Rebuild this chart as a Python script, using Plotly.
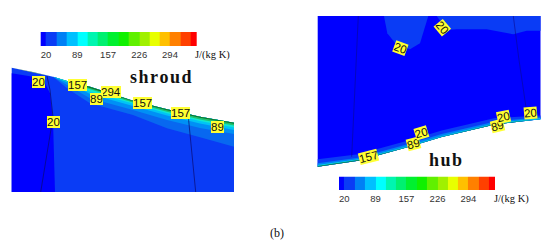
import plotly.graph_objects as go

W, H = 550, 247

# ---------- colour legend ----------
level_edges = [-3, 20, 43, 66, 89, 112, 135, 157, 180, 203, 226, 249, 271, 294, 317, 340, 363]
tick_values = [20, 89, 157, 226, 294]
tick_labels = ["20", "89", "157", "226", "294"]
level_colors = ["#0000ff", "#0a3cf5", "#0080f5", "#00c0ff", "#00ffff", "#00f5b0",
                "#00f070", "#00f030", "#10f000", "#60f000", "#a0f000", "#e8ff00",
                "#ffc000", "#ff8000", "#ff4000", "#ff0000"]
unit_label = "J/(kg K)"

# ---------- shroud panel ----------
shroud_x = [11.7, 33, 53, 67, 90, 133, 167, 200, 234]
shroud_top = [67.7, 72, 76.7, 81, 86.7, 100.7, 109.3, 116.7, 122.7]
shroud_floor = [192, 192, 192, 192, 192, 192, 192, 192, 192]
shroud_core_x = [11.7, 33, 45, 50, 53, 55, 11.7]
shroud_core_y = [73.3, 76.7, 83.3, 93.3, 120, 192, 192]
shroud_bands = [
    ("#0868f0", [67.7, 72, 76.7, 88.3, 103.3, 115, 128.3, 137.3, 146.7]),
    ("#0090f5", [67.7, 72, 76.7, 85, 98.3, 110, 120, 128, 134]),
    ("#00c4f5", [67.7, 72, 76.7, 82.3, 94, 106, 115.5, 123.5, 130]),
    ("#10e8d0", [67.7, 72, 76.7, 81.7, 91.7, 103.5, 113.3, 121, 127.5]),
    ("#20c070", [67.7, 72, 76.7, 81.3, 89.3, 102.5, 111.8, 119.5, 125.5]),
    ("#10702a", [67.7, 72, 76.7, 81, 88, 101.3, 110.3, 117.7, 123.7]),
]
shroud_lines = [
    ([47, 50, 53, 40.7], [76, 90, 117, 192]),
    ([188.3, 195.7], [116.7, 192]),
]
shroud_label_text = ["20", "157", "294", "89", "157", "157", "89", "20"]
shroud_label_x = [38.3, 77.3, 111.3, 96, 142.7, 180, 217, 53]
shroud_label_y = [82.3, 84.7, 92.3, 98.7, 103, 112.7, 126.7, 122]

# ---------- hub panel ----------
hub_x = [317.7, 358.3, 408.3, 441.7, 495, 540.5]
hub_floor = [166.7, 160.7, 147, 137, 124.5, 119.3]
hub_ceiling = [16, 16, 16, 16, 16, 16]
hub_bands = [
    ("#0a3cf5", [159.3, 154.3, 140.5, 130.5, 118, 115.5]),
    ("#0080f5", [163.3, 157.7, 144, 134, 121.5, 117.3]),
    ("#00d0e8", [165, 159.3, 146, 136, 123.2, 118.3]),
    ("#107040", [166, 160, 146.7, 136.7, 124, 119]),
]
hub_tongue_x = [384, 387.3, 396.7, 410, 420, 428.3]
hub_tongue_y = [16, 33.3, 45, 49.3, 43.3, 16]
hub_patch_x = [436.7, 446.7, 456.7, 486.7, 513.3, 526.7, 540.5, 540.5]
hub_patch_y = [16, 30, 29.3, 29.3, 34.3, 30.7, 30.7, 16]
hub_lines = [
    ([358.3, 353.3, 351.7], [16, 120, 156.7]),
    ([513.3, 519, 526.7], [16, 60, 112]),
]
hub_label_text = ["157", "89", "20", "89", "20", "20", "20", "20"]
hub_label_x = [368.3, 413, 421, 497.3, 503, 530.7, 400, 442.7]
hub_label_y = [157, 144, 133.3, 126, 116.7, 112.7, 47.7, 27.7]
hub_label_angle = [-14, -15, -17, -14, -12, -5, 20, 50]

fig = go.Figure()


def band(xs, upper, lower, color, xa, ya):
    fig.add_trace(go.Scatter(x=xs + xs[::-1], y=upper + lower[::-1], mode="lines",
                             fill="toself", fillcolor=color, line=dict(width=0, color=color),
                             xaxis=xa, yaxis=ya, hoverinfo="skip", showlegend=False))


# shroud
band(shroud_x, shroud_top, shroud_floor, "#0a3cf5", "x", "y")
fig.add_trace(go.Scatter(x=shroud_core_x, y=shroud_core_y, mode="lines", fill="toself",
                         fillcolor="#0000ff", line=dict(width=0), xaxis="x", yaxis="y",
                         hoverinfo="skip", showlegend=False))
for color, edge in shroud_bands:
    band(shroud_x, edge, shroud_top, color, "x", "y")
for lx, ly in shroud_lines:
    fig.add_trace(go.Scatter(x=lx, y=ly, mode="lines", line=dict(color="#0a0a70", width=0.7),
                             xaxis="x", yaxis="y", hoverinfo="skip", showlegend=False))

# hub
band(hub_x, hub_ceiling, hub_floor, "#0000ff", "x2", "y2")
for xs, ys in ((hub_tongue_x, hub_tongue_y), (hub_patch_x, hub_patch_y)):
    fig.add_trace(go.Scatter(x=xs, y=ys, mode="lines", fill="toself", fillcolor="#0a3cf5",
                             line=dict(width=0), xaxis="x2", yaxis="y2",
                             hoverinfo="skip", showlegend=False))
for color, edge in hub_bands:
    band(hub_x, edge, hub_floor, color, "x2", "y2")
for lx, ly in hub_lines:
    fig.add_trace(go.Scatter(x=lx, y=ly, mode="lines", line=dict(color="#0a0a90", width=0.6),
                             xaxis="x2", yaxis="y2", hoverinfo="skip", showlegend=False))

# colour legends
n = len(level_colors)
scale = []
for i, c in enumerate(level_colors):
    scale += [[i / n, c], [(i + 1) / n, c]]
for xa, ya in (("x3", "y3"), ("x4", "y4")):
    fig.add_trace(go.Heatmap(x=level_edges, y=[0], z=[list(range(n))], zmin=-0.5, zmax=n - 0.5,
                             colorscale=scale, showscale=False, xaxis=xa, yaxis=ya,
                             hoverinfo="skip"))


def dom(a, b, size):
    return [a / size, b / size]


def ydom(top, bottom):
    return [1 - bottom / H, 1 - top / H]


hidden = dict(visible=False, fixedrange=True)
tick_axis = dict(range=[8.2, 353], tickmode="array", tickvals=tick_values, ticktext=tick_labels,
                 ticks="", showgrid=False, zeroline=False, showline=False,
                 tickfont=dict(family="Liberation Sans", size=9.5, color="#333333"),
                 ticklabelstandoff=1)
fig.update_layout(
    width=W, height=H, margin=dict(l=0, r=0, t=0, b=0), autosize=False,
    paper_bgcolor="white", plot_bgcolor="rgba(0,0,0,0)",
    xaxis=dict(domain=dom(0, W, W), range=[0, W], anchor="y", **hidden),
    yaxis=dict(domain=[0, 1], range=[H, 0], anchor="x", **hidden),
    xaxis2=dict(domain=dom(0, W, W), range=[0, W], anchor="y2", **hidden),
    yaxis2=dict(domain=[0, 1], range=[H, 0], anchor="x2", **hidden),
    xaxis3=dict(domain=dom(40.7, 196.7, W), anchor="y3", **tick_axis),
    yaxis3=dict(domain=ydom(32, 46), range=[-0.5, 0.5], anchor="x3", **hidden),
    xaxis4=dict(domain=dom(339, 495, W), anchor="y4", **tick_axis),
    yaxis4=dict(domain=ydom(176.5, 190), range=[-0.5, 0.5], anchor="x4", **hidden),
)

annotations = []


def label(text, x, y, xref, yref, angle=0):
    annotations.append(dict(text=text, x=x, y=y, xref=xref, yref=yref, showarrow=False,
                            textangle=angle, bgcolor="#ffff33", borderpad=0, borderwidth=0,
                            font=dict(family="Liberation Sans", size=11.5, color="#111111")))


for t, x, y in zip(shroud_label_text, shroud_label_x, shroud_label_y):
    label(t, x, y, "x", "y")
for t, x, y, a in zip(hub_label_text, hub_label_x, hub_label_y, hub_label_angle):
    label(t, x, y, "x2", "y2", a)


def caption(text, x, y, size, xref="x", yref="y"):
    annotations.append(dict(text=text, x=x, y=y, xref=xref, yref=yref, showarrow=False,
                            font=dict(family="Liberation Serif", size=size, color="#111111")))


caption("<b>s\u200ah\u200ar\u200ao\u200au\u200ad</b>", 161.3, 77, 18, "x", "y")
caption("<b>h\u200au\u200ab</b>", 445.7, 160, 18, "x2", "y2")
caption(unit_label, 212.5, 54.5, 10.5)
caption(unit_label, 511, 199, 10.5, "x2", "y2")
caption("(b)", 277, 233, 12, "x2", "y2")
fig.update_layout(annotations=annotations)

fig.write_html("out.html", config=dict(displayModeBar=False),
               post_script="document.body.style.margin='0';document.documentElement.style.overflow='hidden';")
